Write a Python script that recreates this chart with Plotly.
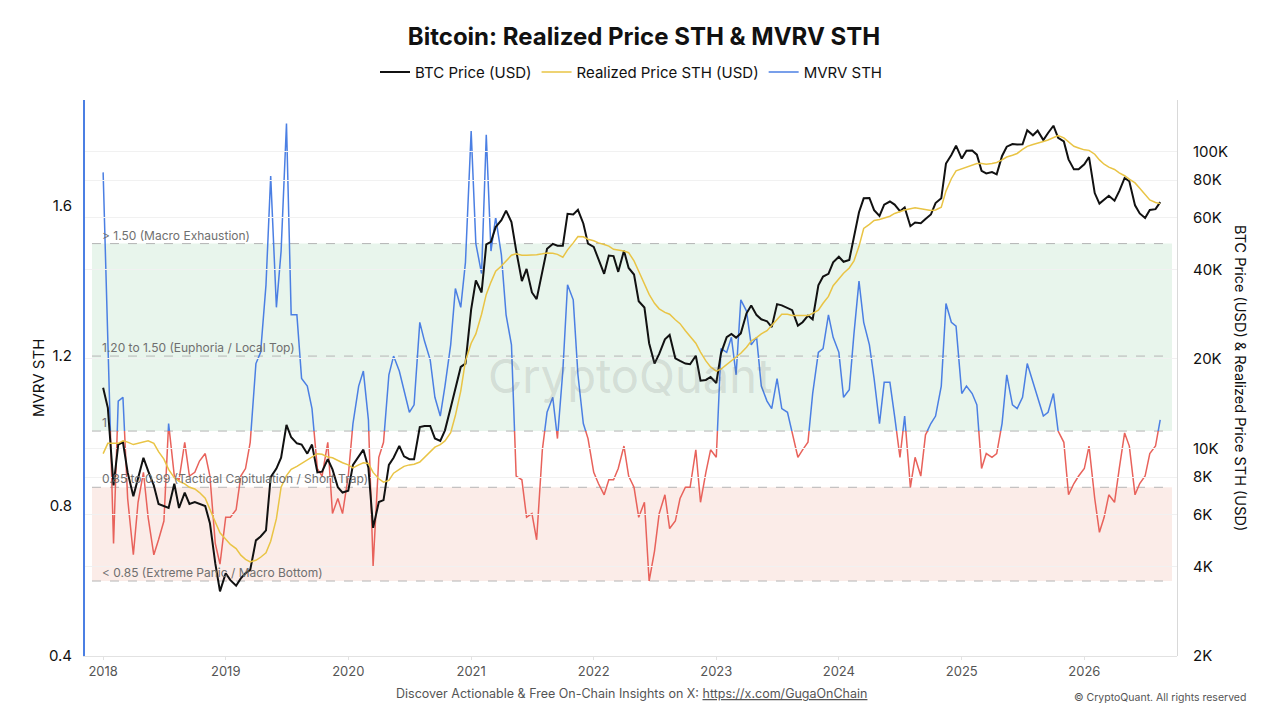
import math

import pandas as pd
import plotly.graph_objects as go

# semi-monthly samples (1st and 15th), Jan 2018 -> Aug 2026
btc_price = [
    16000, 13700, 7500, 10300, 10500, 8300, 6900, 8000, 9300, 8400, 7500, 6500,
    6400, 6300, 7600, 6300, 7100, 6500, 6600, 6500, 6400, 5600, 4100, 3300,
    3800, 3600, 3450, 3650, 3800, 3900, 4900, 5050, 5300, 8000, 8550, 9300,
    12000, 10900, 10400, 10300, 9600, 10300, 8300, 8350, 9200, 8500, 7400, 7100,
    7200, 8800, 9400, 9900, 8600, 5400, 6600, 6700, 8800, 9300, 10200, 9400,
    9200, 9200, 11800, 11900, 11900, 10800, 10600, 11500, 13700, 16000, 18800, 19300,
    29400, 36800, 33500, 48600, 49600, 55600, 58700, 63200, 57800, 46400, 36600, 40200,
    33500, 31800, 39900, 47000, 48800, 48100, 48100, 61600, 61300, 63600, 57200, 48900,
    47700, 43100, 38700, 44600, 44400, 39300, 46300, 40500, 38500, 31300, 29800, 22600,
    19300, 20800, 23300, 24100, 20100, 19700, 19300, 19200, 20500, 16900, 17000, 17400,
    16600, 20900, 23700, 24300, 23600, 24400, 28500, 30300, 28100, 27200, 26800, 25600,
    30600, 30300, 29700, 29200, 25900, 26600, 28000, 27200, 35400, 37900, 38700, 42300,
    44200, 42500, 43100, 51900, 62400, 69500, 69700, 63400, 60600, 66200, 67800, 66200,
    62900, 64800, 56000, 57600, 57300, 59200, 61300, 67000, 69500, 91000, 97200, 104500,
    94600, 100500, 100600, 97500, 86000, 84300, 85200, 83700, 96500, 103700, 105800, 105500,
    105700, 117800, 113300, 117400, 109200, 115300, 122000, 111000, 108000, 94000, 87000, 87000,
    90500, 95700, 72400, 66700, 68600, 70900, 68200, 73500, 81400, 79300, 65800, 61800,
    59700, 63500, 63900, 67500,
]

realized_price_sth = [
    9600, 10400, 10400, 10400, 10600, 10500, 10300, 10400, 10500, 10600, 10400, 9750,
    9200, 8500, 7960, 7750, 7600, 7400, 7300, 7100, 6800, 6200, 5650, 5200,
    4970, 4750, 4600, 4370, 4230, 4150, 4200, 4300, 4450, 4870, 5800, 7400,
    8100, 8500, 8700, 8900, 9100, 9350, 9600, 9550, 9350, 9300, 9100, 8950,
    8800, 8600, 8800, 8950, 8900, 8300, 7900, 7700, 7800, 8250, 8500, 8700,
    8800, 8850, 9000, 9350, 9800, 10100, 10300, 10600, 11300, 12900, 15600, 19700,
    22600, 24300, 28300, 33000, 36300, 39500, 41100, 42800, 44700, 45200, 44700, 44700,
    44700, 44900, 45200, 45500, 45400, 45000, 44000, 46600, 49200, 51700, 51600, 50600,
    50000, 49200, 48600, 48000, 46800, 46600, 46200, 45600, 42800, 39500, 35800, 33000,
    30800, 29500, 28700, 28300, 27100, 26300, 24900, 23900, 22600, 21100, 19700, 18800,
    18200, 18500, 19200, 19700, 20300, 20900, 21900, 23000, 23600, 24300, 24900, 26000,
    27300, 28300, 28300, 28000, 28000, 28000, 28000, 28500, 29200, 30800, 32500, 35300,
    37300, 38900, 40500, 42800, 47900, 55000, 56800, 58500, 59000, 59600, 60500, 61800,
    62800, 63500, 64100, 64600, 64100, 63500, 63200, 63500, 64900, 73500, 80900, 86000,
    87400, 88500, 89800, 91000, 91000, 90500, 91000, 91800, 93600, 95700, 97100, 98400,
    101600, 104000, 105500, 106900, 108000, 109200, 111000, 113000, 111000, 107500, 104000, 102700,
    101200, 100800, 97800, 93600, 90500, 88500, 86900, 84700, 82800, 80600, 78300, 75100,
    71500, 68600, 67300, 66700,
]

mvrv_sth = [
    1.69, 1.23, 0.70, 1.08, 1.09, 0.82, 0.67, 0.81, 0.89, 0.77, 0.67, 0.71,
    0.76, 1.02, 0.88, 0.87, 0.97, 0.88, 0.89, 0.92, 0.94, 0.88, 0.70, 0.645,
    0.77, 0.77, 0.79, 0.88, 0.90, 0.97, 1.18, 1.21, 1.39, 1.68, 1.33, 1.48,
    1.82, 1.31, 1.31, 1.14, 1.12, 1.06, 0.90, 0.88, 0.97, 0.78, 0.82, 0.78,
    0.88, 1.02, 1.12, 1.16, 1.03, 0.64, 0.93, 0.97, 1.15, 1.20, 1.16, 1.11,
    1.05, 1.07, 1.29, 1.24, 1.19, 1.09, 1.04, 1.12, 1.23, 1.38, 1.33, 1.45,
    1.80, 1.50, 1.42, 1.79, 1.48, 1.57, 1.47, 1.31, 1.23, 0.88, 0.87, 0.77,
    0.78, 0.71, 0.95, 1.05, 1.09, 0.98, 1.16, 1.39, 1.35, 1.15, 1.02, 0.98,
    0.89, 0.86, 0.83, 0.87, 0.87, 0.90, 0.96, 0.88, 0.85, 0.77, 0.81, 0.60,
    0.68, 0.78, 0.83, 0.74, 0.76, 0.82, 0.85, 0.85, 0.95, 0.81, 0.89, 0.95,
    0.93, 1.22, 1.21, 1.25, 1.15, 1.35, 1.32, 1.23, 1.25, 1.12, 1.08, 1.06,
    1.14, 1.06, 1.05, 0.995, 0.93, 0.95, 0.97, 1.10, 1.21, 1.22, 1.31, 1.25,
    1.21, 1.09, 1.11, 1.26, 1.40, 1.29, 1.23, 1.14, 1.02, 1.13, 1.13, 1.04,
    0.93, 1.04, 0.85, 0.93, 0.88, 0.99, 1.02, 1.04, 1.12, 1.34, 1.29, 1.28,
    1.10, 1.12, 1.10, 1.07, 0.90, 0.94, 0.93, 0.94, 1.02, 1.15, 1.07, 1.06,
    1.09, 1.18, 1.13, 1.09, 1.04, 1.05, 1.10, 1.00, 0.97, 0.83, 0.86, 0.88,
    0.90, 0.96, 0.82, 0.73, 0.77, 0.83, 0.81, 0.90, 0.995, 0.96, 0.83, 0.86,
    0.88, 0.94, 0.96, 1.03,
]

dates = pd.date_range("2018-01-01", periods=len(btc_price), freq="SMS")

# MVRV zone lines and their labels
zone_lines = [1.5, 1.2, 1.0, 0.85, 0.6]
zone_labels = [
    (1.5, "> 1.50 (Macro Exhaustion)"),
    (1.2, "1.20 to 1.50 (Euphoria / Local Top)"),
    (1.0, "1"),
    (0.85, "0.85 to 0.99 (Tactical Capitulation / Short Trap)"),
    (0.6, "< 0.85 (Extreme Panic / Macro Bottom)"),
]

price_ticks = [2000, 4000, 6000, 8000, 10000, 20000, 40000, 60000, 80000, 100000]
price_tick_text = ["2K", "4K", "6K", "8K", "10K", "20K", "40K", "60K", "80K", "100K"]

MVRV_LO, MVRV_HI = 0.4, 1.883
split = (1.0 - MVRV_LO) / (MVRV_HI - MVRV_LO)

BLUE = "#4b7fe3"
RED = "#e8625b"
BLACK = "#111111"
GOLD = "#e9c445"

fig = go.Figure()

# empty trace so the base subplot exists first
fig.add_trace(go.Scatter(x=dates, y=[None] * len(dates), showlegend=False,
                         hoverinfo="skip", xaxis="x", yaxis="y"))

# MVRV drawn twice, each clipped to its own half (above / below 1)
fig.add_trace(go.Scatter(x=dates, y=mvrv_sth, name="MVRV STH", mode="lines",
                         line=dict(color=BLUE, width=1.5), xaxis="x", yaxis="y2",
                         legendrank=3))
fig.add_trace(go.Scatter(x=dates, y=mvrv_sth, name="MVRV STH", mode="lines",
                         line=dict(color=RED, width=1.5), xaxis="x", yaxis="y3",
                         showlegend=False))

fig.add_trace(go.Scatter(x=dates, y=btc_price, name="BTC Price (USD)", mode="lines",
                         line=dict(color=BLACK, width=2), xaxis="x", yaxis="y4",
                         legendrank=1))
fig.add_trace(go.Scatter(x=dates, y=realized_price_sth, name="Realized Price STH (USD)",
                         mode="lines", line=dict(color=GOLD, width=1.5),
                         xaxis="x", yaxis="y4", legendrank=2))

# zone bands
band_x0, band_x1 = 0.0064, 0.9954
fig.add_shape(type="rect", xref="paper", yref="y", x0=band_x0, x1=band_x1, y0=1.0, y1=1.5,
              fillcolor="#e8f5ec", line=dict(width=0), layer="below")
fig.add_shape(type="rect", xref="paper", yref="y", x0=band_x0, x1=band_x1, y0=0.6, y1=0.85,
              fillcolor="#fbece8", line=dict(width=0), layer="below")
for lvl in zone_lines:
    fig.add_shape(type="line", xref="paper", yref="y", x0=band_x0, x1=band_x1, y0=lvl, y1=lvl,
                  line=dict(color="#b5b5b5", width=1, dash="dash"), layer="below")

for lvl, txt in zone_labels:
    fig.add_annotation(x=0.0137, xref="paper", y=lvl, yref="y", text=txt, showarrow=False,
                       xanchor="left", yanchor="bottom", yshift=-1,
                       font=dict(size=12, color="#6f6f6f"))

# watermark
fig.add_annotation(x=0.499, y=0.505, xref="paper", yref="paper", text="CryptoQuant",
                   showarrow=False, xanchor="center",
                   font=dict(size=47, color="rgba(105,105,105,0.18)"))

# axis titles
fig.add_annotation(x=-0.043, y=0.5, xref="paper", yref="paper", text="MVRV STH",
                   textangle=-90, showarrow=False, xanchor="center", yanchor="middle",
                   font=dict(size=15, color="#111"))
fig.add_annotation(x=1.0586, y=0.5, xref="paper", yref="paper",
                   text="BTC Price (USD) & Realized Price STH (USD)",
                   textangle=90, showarrow=False, xanchor="center", yanchor="middle",
                   font=dict(size=14.5, color="#111"))

# footer
fig.add_annotation(x=0.5009, y=-0.0683, xref="paper", yref="paper", showarrow=False,
                   xanchor="center", yanchor="middle",
                   text='Discover Actionable & Free On-Chain Insights on X: '
                        '<span style="text-decoration:underline">https://x.com/GugaOnChain</span>',
                   font=dict(size=12.5, color="#555"))
fig.add_annotation(x=1.065, y=-0.0755, xref="paper", yref="paper", showarrow=False,
                   xanchor="right", yanchor="middle", text="© CryptoQuant. All rights reserved",
                   font=dict(size=10.5, color="#555"))

# page adds an 8px body margin, so the figure is 8px smaller than the window
fig.update_layout(
    width=1272, height=712,
    margin=dict(l=77, r=103, t=92, b=64),
    paper_bgcolor="white", plot_bgcolor="rgba(0,0,0,0)",
    font=dict(family="Inter, Roboto, sans-serif", size=14, color="#111"),
    title=dict(text="<b>Bitcoin: Realized Price STH & MVRV STH</b>", x=0.5, xanchor="center",
               y=0.9593, yanchor="middle", font=dict(size=24, color="#111")),
    legend=dict(orientation="h", x=0.5, xanchor="center", y=1.05, yanchor="middle",
                font=dict(size=15, color="#111"), bgcolor="rgba(0,0,0,0)",
                itemwidth=30),
    hovermode="x unified",
    xaxis=dict(type="date", range=["2017-11-08", "2026-10-04"], showgrid=False,
               showline=True, linecolor="#e2e2e2", ticks="outside", tickcolor="#e2e2e2",
               ticklen=3, dtick="M12", tick0="2018-01-01", tickformat="%Y",
               tickfont=dict(size=13, color="#555"), zeroline=False),
    yaxis=dict(range=[MVRV_LO, MVRV_HI], tickvals=[0.4, 0.8, 1.2, 1.6],
               ticktext=["0.4", "0.8", "1.2", "1.6"], showgrid=False, zeroline=False,
               showline=True, linecolor=BLUE, linewidth=2, ticks="",
               ticklabelstandoff=8, tickfont=dict(size=15, color="#111")),
    yaxis2=dict(domain=[split, 1], range=[1.0, MVRV_HI], visible=False, anchor="x"),
    yaxis3=dict(domain=[0, split], range=[MVRV_LO, 1.0], visible=False, anchor="x"),
    yaxis4=dict(type="log", range=[math.log10(2000), 5.173], side="right", anchor="x",
                tickvals=price_ticks, ticktext=price_tick_text, showgrid=True,
                gridcolor="#f1f1f1", showline=True, linecolor="#d9d9d9", ticks="",
                ticklabelstandoff=12, zeroline=False, tickfont=dict(size=15, color="#111")),
)

fig.write_html("out.html")
